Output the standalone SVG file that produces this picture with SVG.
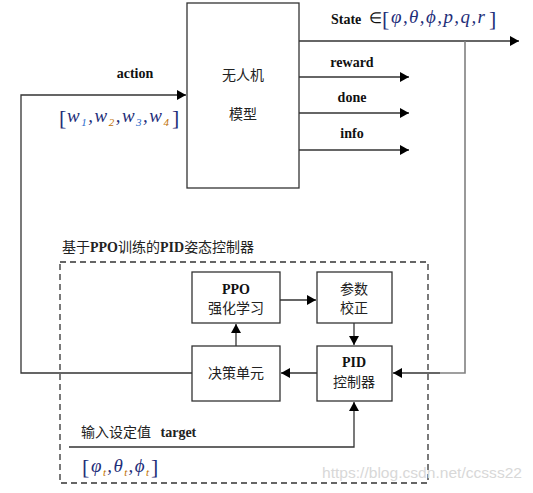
<svg xmlns="http://www.w3.org/2000/svg" width="533" height="493" viewBox="0 0 533 493">
<defs>
<marker id="ah" markerWidth="10" markerHeight="10" refX="9" refY="5" orient="auto" markerUnits="userSpaceOnUse">
<path d="M0,0 L9,5 L0,10 Z" fill="#000"/>
</marker>
<style>
.box{fill:#fff;stroke:#333;stroke-width:1.3}
.ln{fill:none;stroke:#333;stroke-width:1.3}
.gl{fill:none;stroke:#808080;stroke-width:1.6}
.en{font-family:"Liberation Serif","Noto Sans CJK SC",serif;font-weight:bold;font-size:14px;fill:#111}
.cn{font-family:"Liberation Serif","Noto Sans CJK SC",serif;font-size:14px;fill:#222}
.m{font-family:"Liberation Serif",serif;font-style:italic;font-size:19px;fill:#1f2f7a}
.br{font-family:"Liberation Serif",serif;font-size:22px;fill:#1f2f7a}
.sa{fill:#c07000;font-size:11px}
.sb{fill:#2a6acb;font-size:11px}
</style>
</defs>
<rect width="533" height="493" fill="#fff"/>
<g id="connectors">
<polyline class="ln" points="299,41 519,41" marker-end="url(#ah)"/>
<polyline class="ln" points="299,77 409,77" marker-end="url(#ah)"/>
<polyline class="ln" points="299,113 409,113" marker-end="url(#ah)"/>
<polyline class="ln" points="299,150 409,150" marker-end="url(#ah)"/>
<polyline class="gl" points="465,41 465,373 440,373"/>
<polyline class="ln" points="440,373 393,373" marker-end="url(#ah)"/>
<polyline class="ln" points="192,373 21,373 21,95 186,95" marker-end="url(#ah)"/>
<polyline class="ln" points="280,300 316,300" marker-end="url(#ah)"/>
<polyline class="ln" points="354,323 354,345" marker-end="url(#ah)"/>
<polyline class="ln" points="317,373 281,373" marker-end="url(#ah)"/>
<polyline class="ln" points="236,346 236,324" marker-end="url(#ah)"/>
<polyline class="ln" points="69,447 354,447 354,402" marker-end="url(#ah)"/>
</g>
<rect x="60" y="262" width="368" height="221" fill="none" stroke="#333" stroke-width="1.3" stroke-dasharray="6,4"/>
<g id="uav">
<rect class="box" x="187" y="3" width="112" height="185"/>
<text class="cn" x="243" y="80" text-anchor="middle">无人机</text>
<text class="cn" x="243" y="119" text-anchor="middle">模型</text>
</g>
<g id="ppo">
<rect class="box" x="192" y="272" width="88" height="51"/>
<text class="en" x="236" y="294" text-anchor="middle">PPO</text>
<text class="cn" x="236" y="313" text-anchor="middle">强化学习</text>
</g>
<g id="param">
<rect class="box" x="317" y="272" width="75" height="51"/>
<text class="cn" x="354" y="294" text-anchor="middle">参数</text>
<text class="cn" x="354" y="313" text-anchor="middle">校正</text>
</g>
<g id="decision">
<rect class="box" x="192" y="346" width="88" height="55"/>
<text class="cn" x="236" y="378" text-anchor="middle">决策单元</text>
</g>
<g id="pid">
<rect class="box" x="317" y="346" width="75" height="55"/>
<text class="en" x="354" y="367" text-anchor="middle">PID</text>
<text class="cn" x="354" y="387" text-anchor="middle">控制器</text>
</g>
<g id="labels">
<text class="cn" x="62" y="252"><tspan>基于</tspan><tspan font-weight="bold">PPO</tspan><tspan>训练的</tspan><tspan font-weight="bold">PID</tspan><tspan>姿态控制器</tspan></text>
<text class="en" x="135" y="78" text-anchor="middle">action</text>
<text class="br" x="59" y="125">[</text>
<text class="m" x="67" y="122" textLength="102" lengthAdjust="spacing">w<tspan class="sb" dy="4">1</tspan><tspan dy="-4">,w</tspan><tspan class="sa" dy="4">2</tspan><tspan dy="-4">,w</tspan><tspan class="sb" dy="4">3</tspan><tspan dy="-4">,w</tspan><tspan class="sa" dy="4">4</tspan></text>
<text class="br" x="172" y="125">]</text>
<text class="en" x="331" y="24">State</text>
<text x="369" y="23" font-family="Liberation Serif,serif" font-size="15" fill="#111">∈</text>
<text class="br" x="382" y="26">[</text>
<text class="m" x="391" y="23" textLength="94" lengthAdjust="spacing">φ,θ,ϕ,p,q,r</text>
<text class="br" x="489" y="26">]</text>
<text class="en" x="352" y="67" text-anchor="middle">reward</text>
<text class="en" x="352" y="102" text-anchor="middle">done</text>
<text class="en" x="352" y="138" text-anchor="middle">info</text>
<text class="cn" x="81" y="437">输入设定值 <tspan font-weight="bold" dx="6">target</tspan></text>
<text class="br" x="82" y="474">[</text>
<text class="m" x="91" y="472" textLength="58" lengthAdjust="spacing">φ<tspan class="sa" dy="4">t</tspan><tspan dy="-4">,θ</tspan><tspan class="sa" dy="4">t</tspan><tspan dy="-4">,ϕ</tspan><tspan class="sa" dy="4">t</tspan></text>
<text class="br" x="151" y="474">]</text>
<text x="322" y="478" font-family="Liberation Sans,sans-serif" font-size="15" fill="#d8d8d8" textLength="200" lengthAdjust="spacingAndGlyphs">https://blog.csdn.net/ccsss22</text>
</g>
</svg>
